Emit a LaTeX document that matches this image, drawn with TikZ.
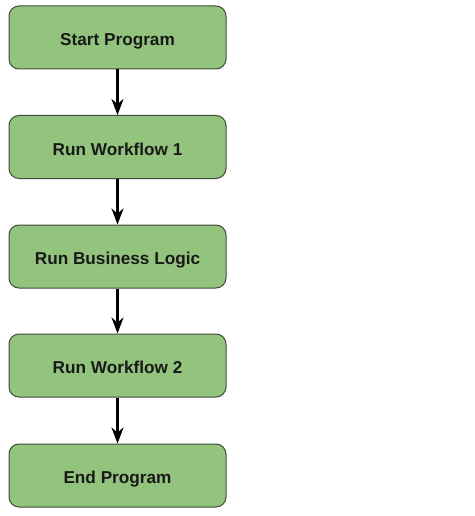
\documentclass[tikz,border=0pt]{standalone}
\usepackage{fontspec}
\setmainfont{Liberation Sans}
\usetikzlibrary{arrows.meta}
\definecolor{boxgreen}{HTML}{93C47D}
\definecolor{boxedge}{HTML}{3F4A3A}
\begin{document}
\begin{tikzpicture}[x=1pt,y=-1pt,
  stepbox/.style={draw=boxedge, line width=1pt, fill=boxgreen, rounded corners=10pt,
    minimum width=217pt, minimum height=63pt, inner sep=0pt,
    text height=16pt, text depth=0pt,
    font=\fontsize{17.2}{20}\selectfont\bfseries, text=black!90},
  flow/.style={line width=2.3pt, -{Stealth[length=16pt,width=12pt,inset=5pt]}}]
\useasboundingbox (0,0) rectangle (474,516);
\node[stepbox] (s) at (117.5,37.5) {Start Program};
\node[stepbox] (w1) at (117.5,147) {Run Workflow 1};
\node[stepbox] (b) at (117.5,256.5) {Run Business Logic};
\node[stepbox] (w2) at (117.5,365.5) {Run Workflow 2};
\node[stepbox] (e) at (117.5,475.5) {End Program};
\draw[flow] (s) -- (w1);
\draw[flow] (w1) -- (b);
\draw[flow] (b) -- (w2);
\draw[flow] (w2) -- (e);
\end{tikzpicture}
\end{document}
